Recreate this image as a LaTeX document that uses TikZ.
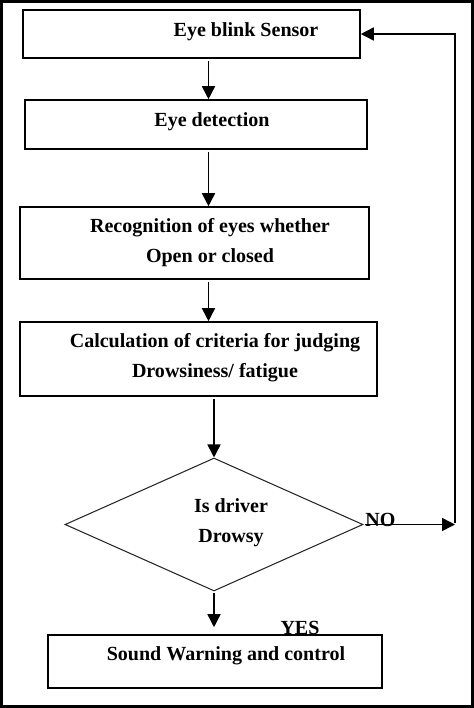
\documentclass[tikz,border=0pt]{standalone}
\usepackage{fontspec}
\setmainfont{Liberation Serif}
\usetikzlibrary{arrows.meta,positioning,fit,shapes.geometric}
\tikzset{
  box/.style={draw=black, line width=0.9pt, inner sep=0pt},
  decide/.style={draw=black!85, line width=0.6pt, diamond, inner sep=0pt,
              minimum width=5.96cm, minimum height=2.66cm},
  lbl/.style={font=\bfseries\fontsize{11.4}{17}\selectfont, align=center, inner sep=0pt},
  flow/.style={-{Triangle[length=2.6mm,width=2.6mm]}, line width=0.9pt, shorten <=1pt},
}

\begin{document}
\begin{tikzpicture}[x=0.02cm,y=-0.02cm]
    \useasboundingbox (0,0) rectangle (474,708);
    % --- outer frame ---
    \draw[line width=2pt] (1.5,1.5) rectangle (472.5,706.5);
    % --- process boxes ---
    \node[box, fit={(23,10) (360,58)}] (sensor) {};
    \node[lbl] (sensortxt) at (246,32) {Eye blink Sensor};
    \node[box, fit={(25,100) (367,149)}] (detect) {};
    \node[lbl] (detecttxt) at (212,122) {Eye detection};
    \node[box, fit={(20,207) (369,279)}] (recog) {};
    \node[lbl] (recogtxt) at (210,243) {Recognition of eyes whether\\Open or closed};
    \node[box, fit={(20,322) (377,396)}] (criteria) {};
    \node[lbl] (criteriatxt) at (215,358) {Calculation of criteria for judging\\Drowsiness/ fatigue};
    % --- decision ---
    \node[decide] (drowsy) at (214,524.5) {};
    \node[lbl] (drowsytxt) at (231,523) {Is driver\\Drowsy};
    \node[lbl, anchor=west] (no) at (365,520) {NO};
    % --- warning ---
    \node[box, fit={(48,635) (382,688)}] (warn) {};
    \node[lbl] (warntxt) at (226,656) {Sound Warning and control};
    \node[lbl] (yes) at (300,628) {YES};
    % --- flow ---
    \coordinate (axis) at (208.5,0);
    \coordinate (turn) at (455,0);
    \draw[flow] (sensor.south -| axis) -- (detect.north -| axis);
    \draw[flow] (detect.south -| axis) -- (recog.north -| axis);
    \draw[flow] (recog.south -| axis) -- (criteria.north -| axis);
    \draw[flow] (criteria.south -| drowsy.north) -- (drowsy.north);
    \draw[flow, shorten >=0.14cm] (drowsy.south) -- (warn.north -| drowsy.south);
    % --- back to the sensor ---
    \draw[flow] (drowsy.east) -- (drowsy.east -| turn);
    \draw[flow] (drowsy.east -| turn) -- (turn |- sensor.east) -- (sensor.east);
\end{tikzpicture}
\end{document}
